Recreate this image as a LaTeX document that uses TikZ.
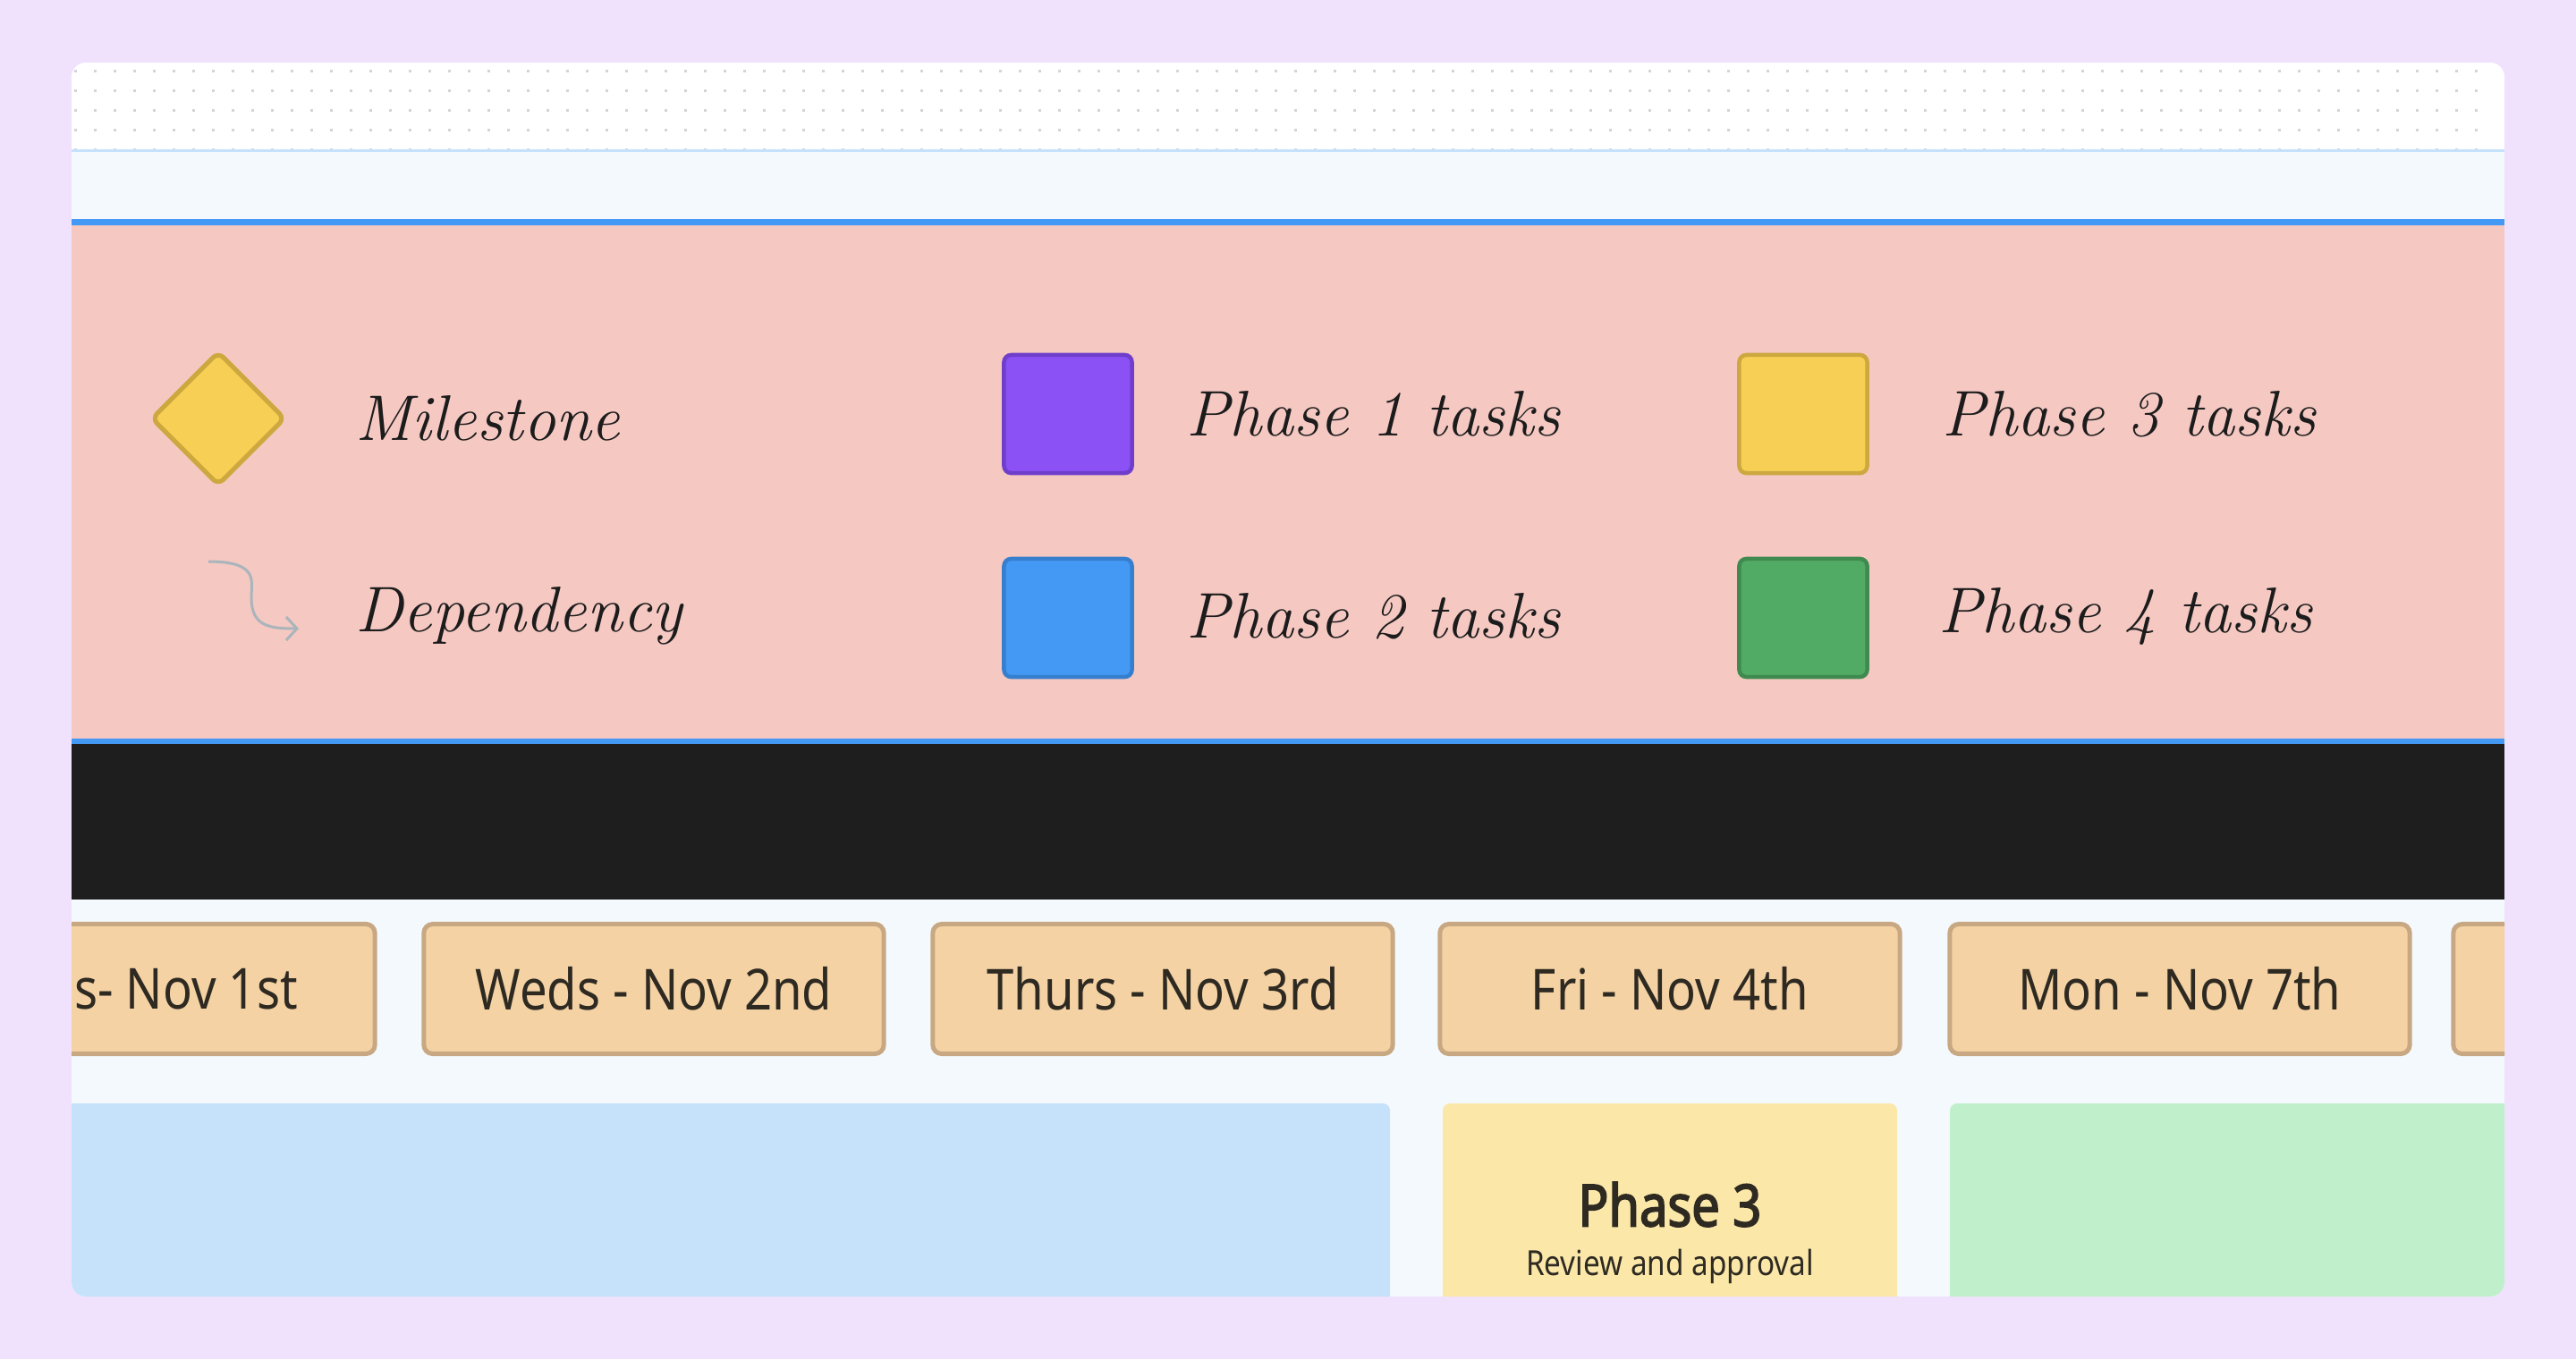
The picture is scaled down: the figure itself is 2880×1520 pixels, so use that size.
\documentclass[tikz,border=0pt]{standalone}
\usepackage{fontspec}
\usetikzlibrary{shapes.geometric,arrows.meta}
\newfontfamily\datefont[FakeStretch=0.86]{Noto Sans}
\newfontfamily\dateheavy[FakeStretch=0.86,FakeBold=2.6]{Noto Sans}

\definecolor{pagebg}{HTML}{F0E2FC}
\definecolor{dotgray}{HTML}{D4D4D8}
\definecolor{rowline}{HTML}{C6E1FB}
\definecolor{rowbg}{HTML}{F4F9FE}
\definecolor{bandblue}{HTML}{4499F5}
\definecolor{legendbg}{HTML}{F5C8C2}
\definecolor{darkband}{HTML}{1E1E1E}
\definecolor{dayfill}{HTML}{F4D2A4}
\definecolor{dayedge}{HTML}{C8A882}
\definecolor{ink}{HTML}{2E2A22}
\definecolor{handink}{HTML}{1C1C1C}
\definecolor{barblue}{HTML}{C5E2FA}
\definecolor{baryellow}{HTML}{FBE8A9}
\definecolor{bargreen}{HTML}{C0F0CB}
\definecolor{milefill}{HTML}{F8CF55}
\definecolor{mileedge}{HTML}{CCA83E}
\definecolor{onefill}{HTML}{8B51F5}
\definecolor{oneedge}{HTML}{6F3ECB}
\definecolor{twofill}{HTML}{4499F5}
\definecolor{twoedge}{HTML}{357FCE}
\definecolor{fourfill}{HTML}{52AB65}
\definecolor{fouredge}{HTML}{3F8A4E}
\definecolor{depgray}{HTML}{AAB5BB}

\tikzset{
  datebox/.style={rectangle, rounded corners=0.1cm, draw=dayedge, fill=dayfill,
    line width=0.05cm, minimum width=5.14cm, minimum height=1.45cm,
    text=ink, font=\datefont\fontsize{18}{22}\selectfont},
  swatch/.style={rectangle, rounded corners=0.08cm, line width=0.045cm,
    minimum width=1.43cm, minimum height=1.32cm},
  hand/.style={anchor=west, text=handink, inner sep=0pt,
    font=\fontsize{20.5}{25}\selectfont\itshape},
}

\begin{document}
\begin{tikzpicture}[x=0.01cm,y=-0.01cm]
  \useasboundingbox (0,0) rectangle (2880,1520);
  \fill[pagebg] (0,0) rectangle (2880,1520);

  \begin{scope}
    \clip[rounded corners=0.16cm] (80,70) rectangle (2800,1450);
    \fill[white] (80,70) rectangle (2800,1450);
    \foreach \i in {0,...,122}{
      \foreach \j in {0,...,4}{
        \fill[dotgray] (82.5+22*\i,77.5+22*\j) rectangle ++(3,3);
      }
    }
    \fill[rowline] (80,167) rectangle (2800,170);
    \fill[rowbg] (80,170) rectangle (2800,245);
    \fill[bandblue] (80,245) rectangle (2800,252);
    \fill[legendbg] (80,252) rectangle (2800,826);
    \fill[bandblue] (80,826) rectangle (2800,832);
    \fill[darkband] (80,832) rectangle (2800,1006);
    \fill[rowbg] (80,1006) rectangle (2800,1450);

    \node[datebox] (tue) at (162,1106) {Tues- Nov 1st};
    \node[datebox] (wed) at (731,1106) {Weds - Nov 2nd};
    \node[datebox] (thu) at (1300,1106) {Thurs - Nov 3rd};
    \node[datebox] (fri) at (1867,1106) {Fri - Nov 4th};
    \node[datebox] (mon) at (2437,1106) {Mon - Nov 7th};
    \node[datebox] (tue2) at (3000,1106) {};

    \fill[barblue, rounded corners=0.08cm] (40,1234) rectangle (1554,1500);
    \fill[baryellow, rounded corners=0.08cm] (1613,1234) rectangle (2121,1500);
    \fill[bargreen, rounded corners=0.08cm] (2180,1234) rectangle (2840,1500);
    \node[text=ink, font=\dateheavy\fontsize{18.5}{22}\selectfont] (ph3) at (1867,1347) {Phase 3};
    \node[text=ink, font=\datefont\fontsize{11}{14}\selectfont] (ph3sub) at (1867,1416) {Review and approval};
  \end{scope}

  \node[diamond, aspect=1, rounded corners=0.08cm, draw=mileedge, fill=milefill,
    line width=0.05cm, minimum size=1.5cm, inner sep=0pt] (mile) at (244,468) {};
  \node[hand] (miletxt) at (397,468) {Milestone};

  \coordinate (depA) at (233,628);
  \coordinate (depB) at (334,703);
  \draw[depgray, line width=0.03cm, -{Straight Barb[length=0.12cm,width=0.26cm]}]
    (depA) .. controls (290,628) and (281,650) .. (281,668)
    .. controls (281,700) and (300,703) .. (depB);
  \node[hand] (deptxt) at (397,689) {Dependency};

  \node[swatch, draw=oneedge, fill=onefill] (one) at (1194,463) {};
  \node[hand] (onetxt) at (1326,463) {Phase 1 tasks};
  \node[swatch, draw=twoedge, fill=twofill] (two) at (1194,691) {};
  \node[hand] (twotxt) at (1326,689) {Phase 2 tasks};
  \node[swatch, draw=mileedge, fill=milefill] (three) at (2016,463) {};
  \node[hand] (threetxt) at (2171,463) {Phase 3 tasks};
  \node[swatch, draw=fouredge, fill=fourfill] (four) at (2016,691) {};
  \node[hand] (fourtxt) at (2167,689) {Phase 4 tasks};
\end{tikzpicture}
\end{document}
